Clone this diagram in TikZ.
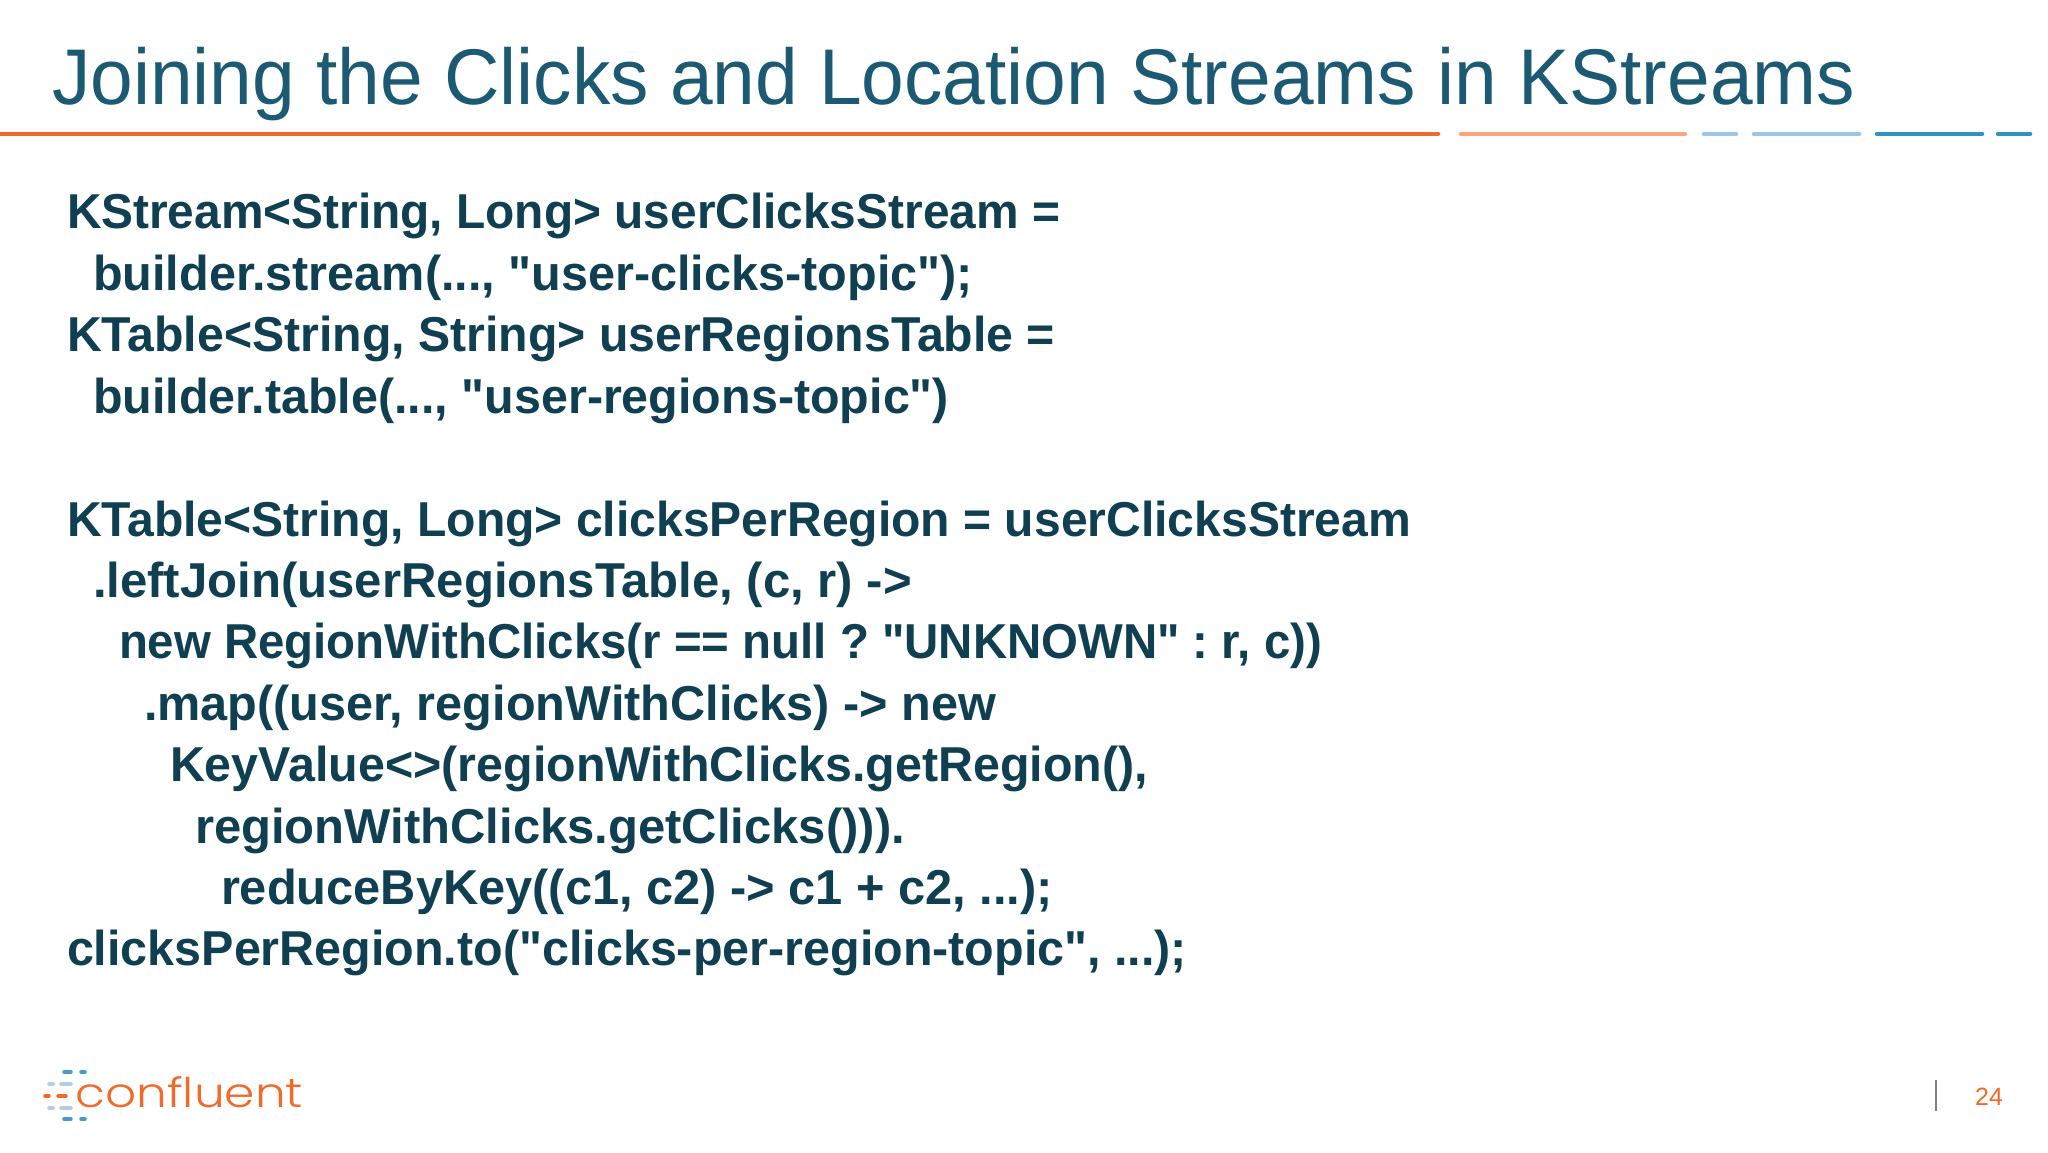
\documentclass[tikz,border=0pt]{standalone}
\usepackage{fontspec}
\setmainfont{Liberation Sans}
\newfontfamily\logofont{Poppins Light}
\newfontfamily\codefont{Liberation Sans Bold}
\definecolor{titlecol}{HTML}{1B5A72}
\definecolor{codecol}{HTML}{0F3F50}
\definecolor{orangec}{HTML}{F26A2A}
\definecolor{lorange}{HTML}{F9A47C}
\definecolor{lblue}{HTML}{9CC4E4}
\definecolor{dblue}{HTML}{2E93BD}
\definecolor{logolight}{HTML}{B4CBE4}
\definecolor{logoblue}{HTML}{4A97C8}
\newcommand{\fitw}[2]{\resizebox{#1pt}{\height}{#2}}
\frenchspacing
\tikzset{
  codeline/.style={anchor=base west,inner sep=0pt,outer sep=0pt,font=\codefont\fontsize{49}{60}\selectfont\frenchspacing,text=codecol},
  rulebar/.style={line width=4.5pt,line cap=round},
  logodash/.style={line width=3.5pt,line cap=round}
}
\begin{document}
\begin{tikzpicture}[x=1pt,y=-1pt]
\useasboundingbox (0,0) rectangle (2048,1152);
\fill[white] (0,0) rectangle (2048,1152);
\node[anchor=base west,inner sep=0pt,text=titlecol,font=\fontsize{79}{96}\selectfont] (title) at (52,104.5) {\fitw{1803}{Joining the Clicks and Location Streams in KStreams}};
\draw[rulebar,orangec] (-3,134) -- (1438,134);
\draw[rulebar,lorange] (1461,134) -- (1685,134);
\draw[rulebar,lblue] (1704,134) -- (1736,134);
\draw[rulebar,lblue] (1754,134) -- (1859,134);
\draw[rulebar,dblue] (1877,134) -- (1982,134);
\draw[rulebar,dblue] (1998,134) -- (2030,134);
\node[codeline] (l1) at (67,228.5) {\fitw{993}{KStream<String, Long> userClicksStream =}};
\node[codeline] (l2) at (93,290.4) {\fitw{880}{builder.stream(..., "user-clicks-topic");}};
\node[codeline] (l3) at (67,351.8) {\fitw{988}{KTable<String, String> userRegionsTable =}};
\node[codeline] (l4) at (93,413.2) {\fitw{856}{builder.table(..., "user-regions-topic")}};
\node[codeline] (l5) at (67,536) {\fitw{1344}{KTable<String, Long> clicksPerRegion = userClicksStream}};
\node[codeline] (l6) at (93,597.4) {\fitw{819}{.leftJoin(userRegionsTable, (c, r) ->}};
\node[codeline] (l7) at (119,658.8) {\fitw{1203}{new RegionWithClicks(r == null ? "UNKNOWN" : r, c))}};
\node[codeline] (l8) at (144,720.2) {\fitw{852}{.map((user, regionWithClicks) -> new}};
\node[codeline] (l9) at (170,781.6) {\fitw{978}{KeyValue<>(regionWithClicks.getRegion(),}};
\node[codeline] (l10) at (195,843) {\fitw{710}{regionWithClicks.getClicks())).}};
\node[codeline] (l11) at (221,904.4) {\fitw{832}{reduceByKey((c1, c2) -> c1 + c2, ...);}};
\node[codeline] (l12) at (67,965.8) {\fitw{1120}{clicksPerRegion.to("clicks-per-region-topic", ...);}};
% logo
\draw[logodash,logoblue] (64,1072) -- (71,1072) (81,1072) -- (85,1072);
\draw[logodash,logolight] (49,1084) -- (53,1084) (61,1084) -- (71,1084);
\draw[logodash,orangec] (45,1096) -- (49,1096) (58,1096) -- (66,1096);
\draw[logodash,logolight] (49,1108) -- (53,1108) (61,1108) -- (71,1108);
\draw[logodash,logoblue] (64,1119) -- (71,1119) (81,1119) -- (85,1119);
\node[anchor=base west,inner sep=0pt,text=orangec,font=\logofont\fontsize{41}{48}\selectfont] (logo) at (75,1107) {\fitw{228}{confluent}};
% page number
\draw[line width=2pt,gray] (1936,1080) -- (1936,1111);
\node[anchor=base west,inner sep=0pt,text=orangec,font=\fontsize{25}{30}\selectfont] (pagenum) at (1975,1105) {24};
\end{tikzpicture}
\end{document}
